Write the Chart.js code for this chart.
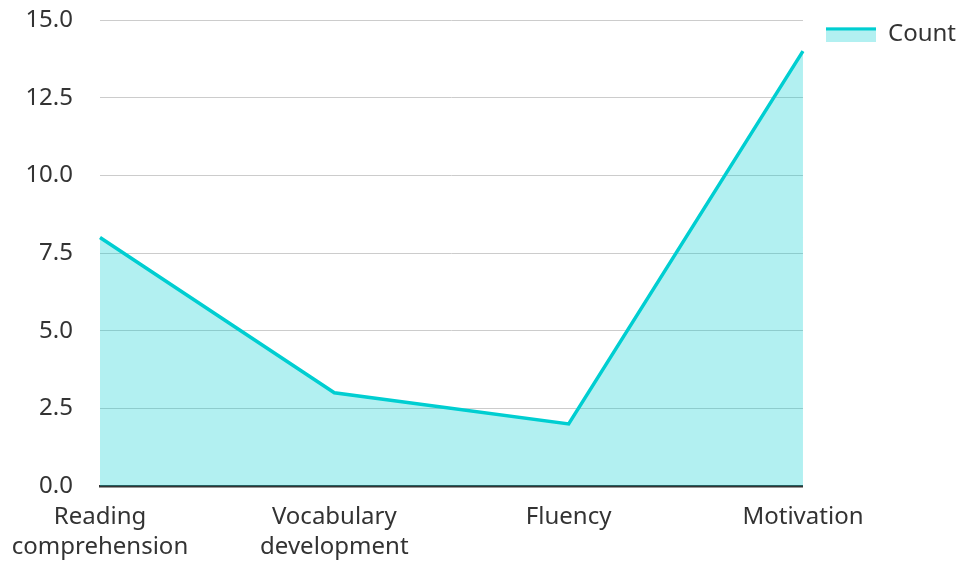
<!DOCTYPE html>
<html>
<head>
<meta charset="utf-8">
<script src="https://cdn.jsdelivr.net/npm/chart.js@4/dist/chart.umd.min.js"></script>
<style>
  html, body { margin: 0; padding: 0; background: #ffffff; }
  #wrap { width: 959px; height: 562px; position: relative; }
</style>
</head>
<body>
<div id="wrap"><canvas id="chart"></canvas></div>
<script>
// Categories and counts
const categories = [
  ['Reading', 'comprehension'],
  ['Vocabulary', 'development'],
  'Fluency',
  'Motivation'
];
const counts = [8, 3, 2, 14];
const seriesName = 'Count';

const lineColor = '#00CED1';
const fillColor = 'rgba(0, 206, 209, 0.3)';
const textColor = '#333333';

// Legend swatch: filled box with a thick line across its top
function makeSwatch() {
  const c = document.createElement('canvas');
  c.width = 50; c.height = 15;
  const g = c.getContext('2d');
  g.fillStyle = fillColor;
  g.fillRect(0, 0, 50, 15);
  g.fillStyle = lineColor;
  g.fillRect(0, 1, 50, 3);
  return c;
}

// Nudge the legend block a little right and down once the layout is done
const legendNudge = {
  id: 'legendNudge',
  afterLayout(chart) {
    const lg = chart.legend;
    if (lg) {
      lg.left += 7;
      lg.right += 7;
      lg.top += 6;
      lg.bottom += 6;
    }
  }
};

Chart.defaults.font.family = '"Noto Sans", "Open Sans", sans-serif';
Chart.defaults.font.size = 24;
Chart.defaults.color = textColor;

new Chart(document.getElementById('chart'), {
  type: 'line',
  data: {
    labels: categories,
    datasets: [{
      label: seriesName,
      data: counts,
      borderColor: lineColor,
      backgroundColor: fillColor,
      borderWidth: 3.5,
      fill: 'origin',
      tension: 0,
      pointRadius: 0,
      pointHoverRadius: 0,
      pointStyle: makeSwatch()
    }]
  },
  plugins: [legendNudge],
  options: {
    responsive: true,
    maintainAspectRatio: false,
    animation: false,
    layout: { padding: { top: 0, right: 0, bottom: 0, left: 0 } },
    plugins: {
      tooltip: { enabled: false },
      legend: {
        position: 'right',
        align: 'start',
        labels: {
          usePointStyle: true,
          pointStyleWidth: 50,
          boxHeight: 15,
          padding: 16,
          color: textColor,
          font: { size: 24 }
        }
      }
    },
    scales: {
      x: {
        offset: false,
        grid: { display: false, drawTicks: false },
        border: { display: true, color: '#333333', width: 2.5 },
        ticks: {
          maxRotation: 0,
          autoSkip: false,
          padding: 16,
          color: textColor,
          font: { size: 24, lineHeight: 1.25 }
        },
        afterFit: scale => { scale.height = 76; scale.paddingLeft = 98; }
      },
      y: {
        min: 0,
        max: 15,
        ticks: {
          stepSize: 2.5,
          padding: 27,
          color: textColor,
          callback: v => Number(v).toFixed(1)
        },
        grid: { color: '#cccccc', lineWidth: 1, drawTicks: false },
        border: { display: false },
        // fixed axis width; top gridline close to the canvas edge
        afterFit: scale => {
          scale.width = 100;
          scale.paddingTop = 20;
          scale.paddingBottom = 0;
        }
      }
    }
  }
});
</script>
</body>
</html>
